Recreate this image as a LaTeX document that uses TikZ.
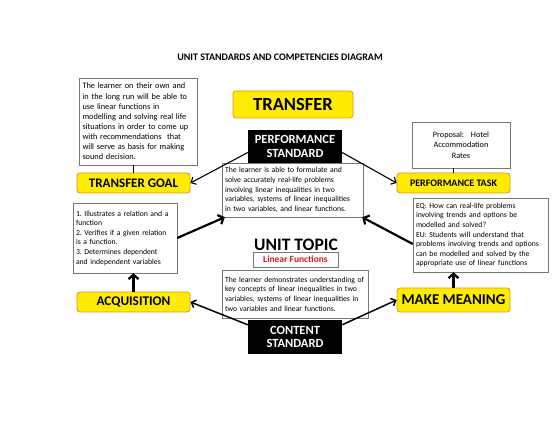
\documentclass[tikz,border=0pt]{standalone}
\usepackage{fontspec}
\setmainfont{Carlito}
\usetikzlibrary{arrows.meta, positioning}

\definecolor{stagefill}{RGB}{255,236,0}
\definecolor{stageline}{RGB}{226,150,20}
\definecolor{boxline}{RGB}{120,120,120}
\definecolor{topicred}{RGB}{205,30,30}

\newcommand{\tightwords}{\frenchspacing\spaceskip=0.17em plus 0.05em\relax}

\tikzset{
    txtbox/.style={draw=boxline, fill=white, align=left, inner xsep=3pt, inner ysep=2pt,
                   font=\fontsize{7.7}{9.6}\selectfont\tightwords},
    stage/.style={draw=stageline, fill=stagefill, line width=0.8pt, rounded corners=3pt,
                  inner sep=0pt, minimum width=113pt, minimum height=20pt},
    blackbox/.style={fill=black, text=white, align=center, inner sep=0pt,
                     minimum width=94pt, font=\fontsize{12.5}{13.5}\selectfont\bfseries},
    link/.style={line width=1.1pt, -{Straight Barb[length=4pt, width=8pt]}},
    biglink/.style={line width=2.2pt, -{Straight Barb[length=4.5pt, width=10pt]}}
}

\begin{document}
\begin{tikzpicture}[x=1pt, y=-1pt]
    \fill[white] (0,0) rectangle (560,433);

    \node (title) at (280,57) {\fontsize{10}{12}\selectfont\bfseries UNIT STANDARDS AND COMPETENCIES DIAGRAM};

    \node[txtbox, text width=112pt, minimum height=87pt, font=\fontsize{8.3}{10.1}\selectfont] (learner) at (138.5,121.5)
        {The learner on their own and\\in the long run will be able to\\use linear functions in\\modelling and solving real life\\situations in order to come up\\with recommendations~ that\\will serve as basis for making\\sound decision.};

    \node[stage, minimum width=120pt, minimum height=27pt, font=\fontsize{18.5}{20}\selectfont\bfseries] (transfer) at (293,104.5) {TRANSFER};

    \node[blackbox, minimum height=33pt] (perfstd) at (295,146.5) {PERFORMANCE\\STANDARD};
    \node[txtbox, text width=135pt, minimum height=54pt] (perftext) at (292.5,190)
        {The learner is able to formulate and\\solve accurately real-life problems\\involving linear inequalities in two\\variables, systems of linear inequalities\\in two variables, and linear functions.};

    \node[txtbox, align=center, text width=92pt, minimum height=46pt, font=\fontsize{8.2}{10.5}\selectfont] (proposal) at (461,145)
        {Proposal:~ Hotel\\Accommodation\\Rates};

    \node[stage, font=\fontsize{13}{14}\selectfont\bfseries] (goal) at (133.5,183) {TRANSFER GOAL};
    \node[stage, font=\fontsize{10}{12}\selectfont\bfseries] (task) at (453.5,183) {PERFORMANCE TASK};

    \node[txtbox, text width=98pt, minimum height=70pt] (acqtext) at (125,238)
        {1. Illustrates a relation and a\\function\\2. Verifies if a given relation\\is a function.\\3. Determines dependent\\and independent variables};

    \node[txtbox, text width=129pt, minimum height=74pt] (eqtext) at (480.5,235)
        {EQ: How can real-life problems\\involving trends and options be\\modelled and solved?\\EU: Students will understand that\\problems involving trends and options\\can be modelled and solved by the\\appropriate use of linear functions};

    \node (topic) at (296,245) {\fontsize{17.5}{19}\selectfont\bfseries UNIT TOPIC};
    \node[draw=boxline, fill=white, minimum width=85pt, minimum height=15pt, inner sep=0pt,
          text=topicred, font=\fontsize{9.5}{10}\selectfont\bfseries] (linear) at (295.5,259.5) {Linear Functions};

    \node[txtbox, text width=140pt, minimum height=48pt] (conttext) at (295,294)
        {The learner demonstrates understanding of\\key concepts of linear inequalities in two\\variables, systems of linear inequalities in\\two variables and linear functions.};
    \node[blackbox, minimum height=34pt] (contstd) at (295,337) {CONTENT\\STANDARD};

    \node[stage, font=\fontsize{13.3}{14}\selectfont\bfseries] (acq) at (133.5,302) {ACQUISITION};
    \node[stage, minimum height=24pt, font=\fontsize{15}{16}\selectfont\bfseries] (meaning) at (453.5,300) {MAKE MEANING};

    \draw[line width=1.1pt] (learner.south -| goal.north) -- (goal.north);
    \draw[line width=1.1pt] (proposal.south -| task.north) -- (task.north);
    \draw[link] ([yshift=-6pt]perfstd.west) -- (goal.east);
    \draw[link] ([yshift=-6pt]perfstd.east) -- (task.west);
    \draw[biglink] (acqtext.east) -- ([xshift=3pt]perftext.south west);
    \draw[biglink] ([yshift=-9pt]eqtext.west) -- ([xshift=-1pt]perftext.south east);
    \draw[biglink] (acq.north) -- (acq.north |- acqtext.south);
    \draw[biglink] (meaning.north) -- (meaning.north |- eqtext.south);
    \draw[link, line width=1.5pt] ([yshift=-5pt]contstd.north west) -- (acq.east);
    \draw[link, line width=1.5pt] ([yshift=-5pt]contstd.north east) -- (meaning.west);
\end{tikzpicture}
\end{document}
